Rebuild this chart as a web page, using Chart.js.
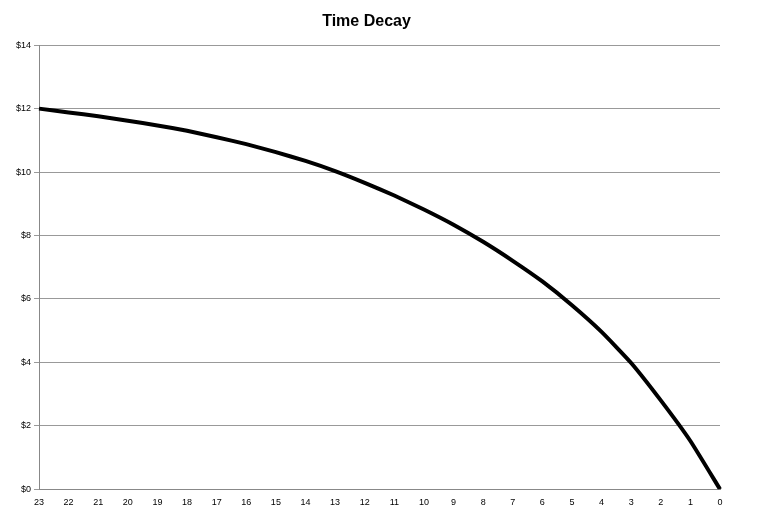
<!DOCTYPE html>
<html lang="en">
<head>
<meta charset="UTF-8">
<title>Time Decay</title>
<script src="https://cdn.jsdelivr.net/npm/chart.js"></script>
<style>
  html, body { margin: 0; padding: 0; background: #fff; }
  #wrap { width: 768px; height: 524px; }
</style>
</head>
<body>
<div id="wrap"><canvas id="decayChart"></canvas></div>
<script>
// days to expiry, left to right
const days = ['23','22','21','20','19','18','17','16','15','14','13','12','11','10','9','8','7','6','5','4','3','2','1','0'];
// option value
const optionValue = [12.0, 11.88, 11.76, 11.62, 11.47, 11.3, 11.1, 10.88, 10.63, 10.35, 10.03, 9.66, 9.26, 8.82, 8.34, 7.8, 7.2, 6.55, 5.8, 4.96, 3.98, 2.8, 1.52, 0];

const ctx = document.getElementById('decayChart').getContext('2d');
new Chart(ctx, {
    type: 'line',
    data: {
        labels: days,
        datasets: [{
            data: optionValue,
            borderColor: '#000',
            borderWidth: 4,
            pointRadius: 0,
            tension: 0.15,
            fill: false
        }]
    },
    options: {
        responsive: true,
        maintainAspectRatio: false,
        animation: false,
        layout: { padding: { top: 4, right: 48, bottom: 13, left: 13 } },
        plugins: {
            legend: { display: false },
            tooltip: { enabled: false },
            title: {
                display: true,
                text: 'Time Decay',
                color: '#000',
                font: { family: 'Liberation Sans', size: 16, weight: 'bold' },
                padding: { top: 8, bottom: 14 }
            }
        },
        scales: {
            x: {
                offset: false,
                grid: { display: false, drawOnChartArea: false, drawTicks: true, tickLength: 5, color: '#888' },
                border: { color: '#888' },
                ticks: { color: '#000', font: { family: 'Liberation Sans', size: 9 }, maxRotation: 0, autoSkip: false }
            },
            y: {
                min: 0,
                max: 14,
                grid: { color: '#999', tickLength: 5 },
                border: { color: '#888' },
                ticks: {
                    stepSize: 2,
                    color: '#000',
                    font: { family: 'Liberation Sans', size: 9 },
                    callback: v => '$' + v
                }
            }
        }
    }
});
</script>
</body>
</html>
